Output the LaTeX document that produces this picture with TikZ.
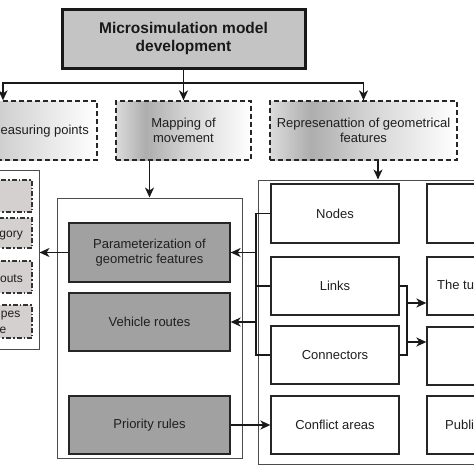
\documentclass[tikz,border=0pt]{standalone}
\usepackage{fontspec}
\setmainfont{Liberation Sans}
\usetikzlibrary{arrows.meta}
\definecolor{panelfill}{RGB}{213,208,208}
\pgfdeclarehorizontalshading{grayfade}{100bp}{color(0bp)=(black!14); color(25bp)=(black!14); color(36bp)=(black!32); color(50bp)=(black!18); color(75bp)=(white); color(100bp)=(white)}
\begin{document}
\begin{tikzpicture}[x=1pt,y=-1pt,
  conn/.style={line width=1.8pt, draw=black!90},
  arr/.style={conn, -{Stealth[length=10pt,width=9pt,inset=3pt]}},
  txt/.style={font=\fontsize{13}{15}\selectfont, text=black!88, align=center},
  lbl/.style={txt, inner sep=0pt, text height=9.5pt, text depth=2.5pt},
  slbl/.style={lbl, font=\fontsize{12}{14}\selectfont, text height=9pt, text depth=2.5pt},
  topbox/.style={draw=black!90, line width=3pt, fill=black!23, minimum width=243pt, minimum height=59pt, font=\fontsize{15.5}{18}\selectfont\bfseries, align=center, text=black!90},
  dashbox/.style={txt, draw=black!85, line width=1.3pt, dash pattern=on 5pt off 3pt, shading=grayfade, minimum height=59pt},
  cont/.style={draw=black!70, line width=1pt, fill=white},
  ddbox/.style={draw=black!80, line width=1.2pt, dash pattern=on 5pt off 2pt on 1.5pt off 2pt, fill=panelfill, minimum width=110pt},
  dbox/.style={txt, draw=black!85, line width=1.3pt, fill=black!37, minimum width=161pt, minimum height=58pt},
  wbox/.style={txt, draw=black!85, line width=1.3pt, fill=white, minimum width=128pt, minimum height=58pt}
]
\useasboundingbox (0,0) rectangle (474,474);
\fill[white] (0,0) rectangle (474,474);
\clip (0,0) rectangle (474,474);

% top
\node[topbox] (top) at (183.5,38.5) {Microsimulation model\\development};

% second row
\node[dashbox, minimum width=188pt] (meas) at (3,130.5) {};
\node[lbl, anchor=east] (meastxt) at (89,130.5) {easuring points};
\node[dashbox, minimum width=135pt] (map) at (183.5,130.5) {Mapping of\\movement};
\node[dashbox, minimum width=187pt] (rep) at (363.5,130.5) {Represenattion of geometrical\\features};

% containers
\node[cont, minimum width=120pt, minimum height=179pt] (lp) at (-21,259.5) {};
\node[cont, minimum width=185pt, minimum height=260pt] (mid) at (149.5,328) {};
\node[cont, minimum width=310pt, minimum height=284pt] (rc) at (413,322) {};

% left panel boxes
\node[ddbox, minimum height=32pt] (lb1) at (-23,196) {};
\node[ddbox, minimum height=30pt] (lb2) at (-23,233) {};
\node[ddbox, minimum height=32pt] (lb3) at (-23,277) {};
\node[ddbox, minimum height=33pt] (lb4) at (-23,321.5) {};
\node[slbl, anchor=east] (lb2t) at (23,234) {gory};
\node[slbl, anchor=east] (lb3t) at (23,279) {outs};
\node[slbl, anchor=east] (lb4t) at (20.5,314) {pes};
\node[slbl, anchor=east] (lb4u) at (6.5,330) {e};

% middle boxes
\node[dbox, minimum height=59pt] (par) at (149.5,252.5) {Parameterization of\\geometric features};
\node[dbox] (veh) at (149.5,322) {Vehicle routes};
\node[dbox] (pri) at (149.5,425) {Priority rules};

% right boxes
\node[wbox, minimum height=59pt] (nod) at (335,213.5) {Nodes};
\node[wbox] (lnk) at (335,286) {Links};
\node[wbox] (con) at (335,355) {Connectors};
\node[wbox] (cfl) at (335,425) {Conflict areas};
\node[wbox, minimum height=59pt] (r1) at (491,213.5) {};
\node[wbox] (r2) at (491,286) {};
\node[wbox] (r3) at (491,356) {};
\node[wbox] (r4) at (491,425) {};
\node[lbl, anchor=west] (r2t) at (437,286) {The tu};
\node[lbl, anchor=west] (r4t) at (445,425.5) {Publi};

% connectors from top
\coordinate (j) at (183.5,83);
\draw[conn] (top.south) -- (j);
\draw[arr] (j) -| (meas.north);
\draw[arr] (j) -- (map.north);
\draw[arr] (j) -| (rep.north);

\draw[arr] (mid.north |- map.south) -- (mid.north);
\coordinate (ra) at (378,0);
\draw[arr] (ra |- rep.south) -- (ra |- rc.north);

% bracket left of right column
\coordinate (bx) at (256,0);
\draw[conn] (nod.west) -- (nod.west -| bx) -- (con.west -| bx) -- (con.west);
\draw[conn] (lnk.west) -- (lnk.west -| bx);
\draw[arr] (par.east -| bx) -- (par.east);
\draw[arr] (veh.east -| bx) -- (veh.east);
\draw[arr] (par.west) -- (lp.east |- par.west);
\draw[arr] (pri.east) -- (cfl.west);

% bracket links/connectors
\coordinate (bx2) at (407,0);
\draw[conn] (lnk.east) -- (lnk.east -| bx2) -- (con.east -| bx2) -- (con.east);
\coordinate (b1) at (407,303);
\coordinate (b2) at (407,342);
\draw[arr] (b1) -- (b1 -| r2.west);
\draw[arr] (b2) -- (b2 -| r3.west);
\end{tikzpicture}
\end{document}
